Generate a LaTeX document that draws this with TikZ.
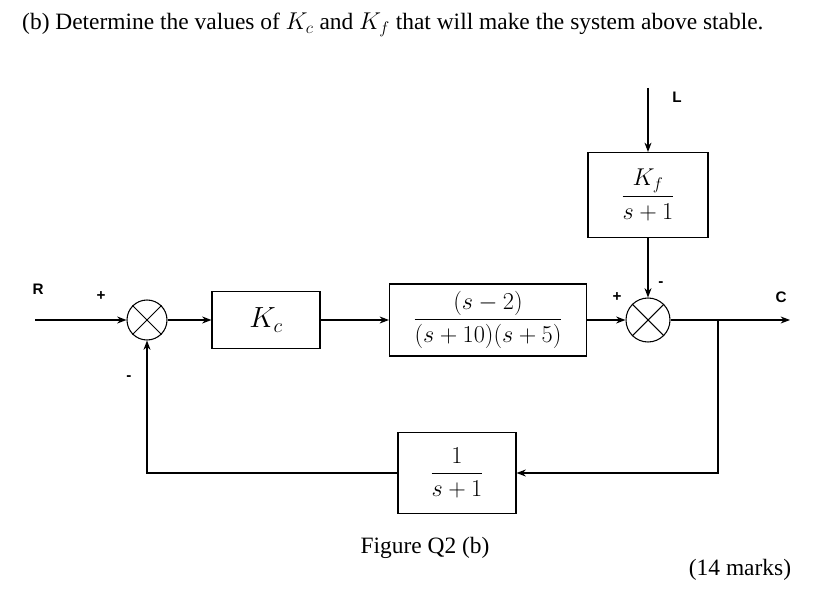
\documentclass[tikz,border=0pt]{standalone}
\usepackage{amsmath}
\usepackage{fontspec}
\setmainfont{Liberation Serif}
\newfontfamily\sansf{Liberation Sans}
\usetikzlibrary{arrows.meta}
\begin{document}
\begin{tikzpicture}[x=0.03cm,y=-0.03cm,
 blk/.style={draw,line width=0.9pt,inner sep=0pt},
 sumn/.style={draw,circle,line width=0.9pt,minimum size=40*0.03cm,inner sep=0pt},
 lab/.style={font=\sansf\bfseries\fontsize{13pt}{15pt}\selectfont},
 arr/.style={-{Stealth[length=8pt,width=6pt]},line width=0.9pt},
 ln/.style={line width=0.9pt}]
\useasboundingbox (0,0) rectangle (833,596);
\node[anchor=base west,font=\fontsize{20pt}{24pt}\selectfont,inner sep=0pt] (title) at (22,30) {(b) Determine the values of $K_c$ and $K_f$ that will make the system above stable.};
\node[sumn] (s1) at (147,320) {};
\draw[ln] (s1.north west)--(s1.south east) (s1.north east)--(s1.south west);
\node[sumn,minimum size=44*0.03cm] (s2) at (648,320) {};
\draw[ln] (s2.north west)--(s2.south east) (s2.north east)--(s2.south west);
\node[blk,minimum width=108*0.03cm,minimum height=57*0.03cm,font=\fontsize{23pt}{26pt}\selectfont] (kc) at (266,320) {$K_c$};
\node[blk,minimum width=197*0.03cm,minimum height=72*0.03cm,font=\fontsize{21pt}{24pt}\selectfont] (g) at (488,320) {$\dfrac{(s-2)}{(s+10)(s+5)}$};
\node[blk,minimum width=120*0.03cm,minimum height=85*0.03cm,font=\fontsize{21pt}{24pt}\selectfont] (kf) at (648,195) {$\dfrac{K_f}{s+1}$};
\node[blk,minimum width=118*0.03cm,minimum height=81*0.03cm,font=\fontsize{21pt}{24pt}\selectfont] (h) at (457,473) {$\dfrac{1}{s+1}$};
\coordinate (rin) at (35,320);
\coordinate (lin) at (648,88);
\coordinate (cout) at (790,320);
\coordinate (br) at (718,320);
\coordinate (br2) at (718,473);
\coordinate (fb) at (147,473);
\draw[arr] (rin)--(s1);
\draw[arr] (s1)--(kc);
\draw[arr] (kc)--(g);
\draw[arr] (g)--(s2);
\draw[arr] (lin)--(kf);
\draw[arr] (kf)--(s2);
\draw[arr] (s2)--(cout);
\draw[arr] (br)--(br2)--(h);
\draw[arr] (h)--(fb)--(s1);
\node[lab] (R) at (38,289) {R};
\node[lab] (p1) at (101,296) {+};
\node[lab] (m1) at (129,378) {-};
\node[lab] (p2) at (617,297) {+};
\node[lab] (m2) at (661,284) {-};
\node[lab] (L) at (677,97) {L};
\node[lab] (C) at (781,297) {C};
\node[font=\fontsize{20pt}{24pt}\selectfont] (fig) at (425,548) {Figure Q2 (b)};
\node[font=\fontsize{20pt}{24pt}\selectfont] (mk) at (740,570) {(14 marks)};
\end{tikzpicture}
\end{document}
